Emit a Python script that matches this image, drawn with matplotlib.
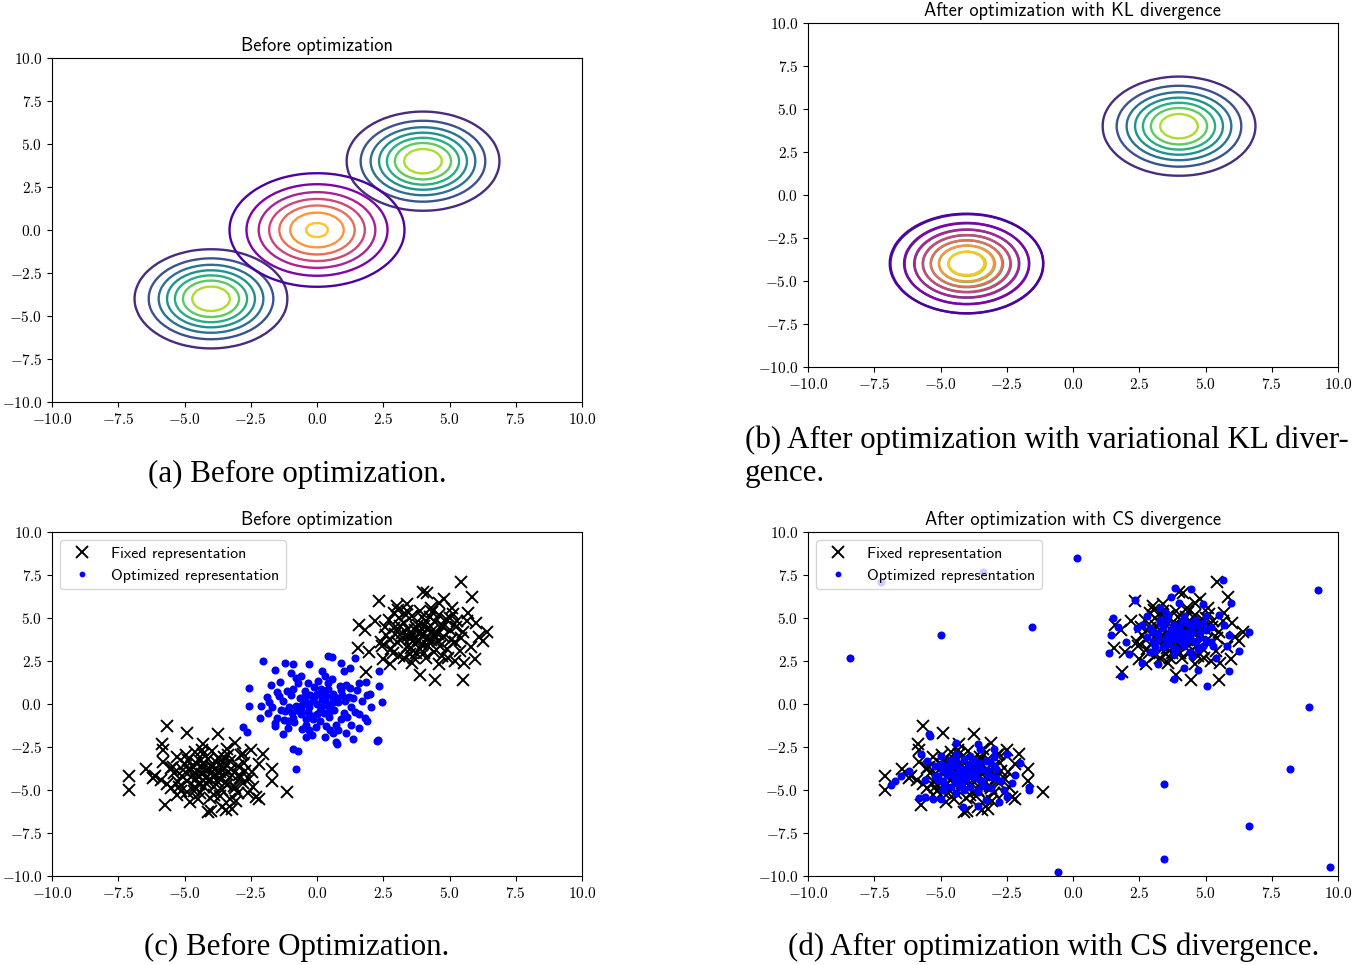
import numpy as np
import matplotlib.pyplot as plt

plt.rcParams["mathtext.fontset"] = "cm"

TICKS = [-10.0, -7.5, -5.0, -2.5, 0.0, 2.5, 5.0, 7.5, 10.0]

# gaussian fields shown as contours (means, variance, weights, contour levels)
FIXED_MEANS = [(-4.0, -4.0), (4.0, 4.0)]
FIXED_VAR = 2.0
FIXED_WEIGHTS = [0.5, 0.5]
FIXED_LEVELS = [0.005, 0.010, 0.015, 0.020, 0.025, 0.030, 0.035]

BEFORE_MEANS = [(0.0, 0.0)]
BEFORE_VAR = 2.75
BEFORE_WEIGHTS = [1.0]
BEFORE_LEVELS = [0.008, 0.016, 0.024, 0.032, 0.040, 0.048, 0.056]

KL_MEANS = [(-4.02, -3.98)]
KL_VAR = 2.03
KL_WEIGHTS = [1.0]
KL_LEVELS = [0.01, 0.02, 0.03, 0.04, 0.05, 0.06, 0.07]

# samples
FIXED_LOW = [
    (-7.1, -4.2), (-7.1, -5.0), (-6.45, -3.8), (-6.1, -4.2), (-6.2, -4.3), (-5.85, -2.35),
    (-5.8, -2.7), (-5.65, -1.3), (-5.75, -5.9), (-4.9, -1.7), (-3.75, -1.75), (-4.1, -6.3),
    (-4.0, -6.2), (-3.45, -6.15), (-3.2, -6.1), (-3.6, -6.0), (-2.2, -5.55), (-2.3, -5.4),
    (-1.7, -3.8), (-1.7, -4.5), (-1.15, -5.1), (-2.05, -2.9), (-2.5, -2.7), (-3.1, -2.25),
    (-4.3, -2.35), (-5.8, -3.4), (-5.5, -4.9), (-5.3, -5.3), (-4.8, -5.7), (-2.6, -5.2),
    (-2.4, -4.8), (-2.2, -3.5), (-2.8, -2.9), (-3.4, -2.6), (-4.6, -2.8), (-5.3, -3.1),
    (-5.9, -4.4), (-5.5, -3.7), (-4.0, -4.0), (-4.3, -3.7), (-3.7, -4.3), (-4.5, -4.2),
    (-3.5, -3.8), (-4.2, -4.6), (-3.8, -3.4), (-4.8, -3.9), (-3.2, -4.1), (-4.1, -3.2),
    (-4.6, -4.8), (-3.4, -4.7), (-4.9, -4.5), (-3.0, -3.6), (-4.4, -3.3), (-3.6, -5.0),
    (-5.0, -3.5), (-3.1, -4.9), (-4.7, -3.6), (-3.9, -4.8), (-4.4, -5.2), (-3.3, -3.3),
    (-5.1, -4.2), (-2.9, -4.3), (-4.0, -3.6), (-3.8, -4.1), (-4.2, -4.3), (-3.6, -3.6),
    (-4.6, -4.0), (-3.9, -5.3), (-5.2, -4.8), (-2.8, -4.6), (-4.3, -2.9), (-3.3, -5.5),
    (-4.9, -5.1), (-2.7, -3.9), (-5.4, -4.0), (-3.5, -3.1), (-4.5, -5.5), (-3.0, -5.2),
    (-4.15, -3.85), (-3.85, -4.15), (-4.35, -4.05), (-3.65, -3.95), (-4.05, -4.35), (-3.95, -3.65),
    (-4.55, -3.45), (-3.45, -4.55), (-4.75, -4.25), (-3.25, -3.75), (-4.25, -4.85), (-3.75, -3.15),
    (-5.05, -3.85), (-2.95, -4.15), (-4.45, -4.65), (-3.55, -3.35), (-4.85, -3.25), (-3.15, -4.75),
    (-4.65, -5.05), (-3.35, -2.95), (-5.25, -4.55), (-2.75, -3.45), (-4.05, -5.45), (-3.95, -2.75),
    (-5.45, -3.65), (-2.55, -4.35), (-4.35, -2.65), (-3.65, -5.35), (-5.15, -5.05), (-2.85, -2.95),
    (-3.05, -5.65), (-4.95, -2.95), (-2.45, -3.95), (-5.65, -4.65), (-4.25, -3.45), (-3.75, -4.55),
    (-4.55, -4.35), (-3.45, -4.05), (-3.85, -3.75), (-4.15, -4.25),
]

FIXED_HIGH = [
    (5.45, 7.1), (5.85, 6.2), (2.35, 6.0), (4.0, 6.5), (4.15, 6.45), (6.4, 4.2),
    (6.25, 3.65), (5.95, 2.6), (5.5, 1.4), (4.45, 1.4), (3.9, 1.7), (1.85, 1.85),
    (1.6, 4.6), (1.55, 3.25), (1.95, 3.0), (2.75, 2.3), (5.55, 2.4), (1.8, 4.3),
    (2.2, 4.8), (2.9, 5.3), (3.4, 5.8), (4.6, 5.9), (5.1, 5.6), (5.7, 5.3),
    (6.0, 4.7), (5.8, 3.3), (5.2, 2.5), (4.6, 2.3), (3.6, 2.4), (3.1, 2.8),
    (2.4, 3.6), (2.6, 4.0), (4.8, 6.1), (3.0, 5.7), (2.5, 2.6), (6.1, 3.9),
    (4.0, 4.0), (3.7, 4.3), (4.3, 3.7), (3.5, 3.8), (4.5, 4.2), (3.8, 4.6),
    (4.2, 3.4), (3.2, 4.1), (4.8, 3.9), (3.9, 3.2), (4.1, 4.8), (3.4, 3.3),
    (4.7, 4.6), (3.3, 4.7), (5.0, 4.3), (3.0, 3.6), (4.4, 3.0), (3.6, 5.1),
    (5.2, 3.6), (2.9, 4.4), (4.6, 5.2), (3.5, 2.9), (5.3, 4.8), (3.1, 5.0),
    (4.9, 3.2), (3.8, 3.7), (4.2, 4.4), (3.6, 4.0), (4.4, 4.0), (3.9, 5.4),
    (5.5, 4.2), (2.8, 3.2), (4.7, 2.8), (3.4, 5.4), (5.0, 5.0), (3.3, 2.7),
    (4.1, 2.7), (5.4, 3.1), (2.7, 4.9), (4.3, 5.6),
    (4.15, 3.85), (3.85, 4.15), (4.35, 4.25), (3.65, 3.75), (4.05, 4.55), (3.95, 3.45),
    (4.55, 3.65), (3.45, 4.35), (4.75, 4.45), (3.25, 3.85), (4.25, 5.05), (3.75, 2.95),
    (5.05, 3.75), (2.95, 4.05), (4.45, 4.75), (3.55, 3.25), (4.85, 4.95), (3.15, 4.55),
    (4.65, 3.35), (3.35, 5.15), (5.25, 4.45), (2.75, 3.75), (4.05, 2.95), (3.95, 5.05),
    (5.45, 3.85), (2.55, 4.45), (4.35, 5.35), (3.65, 2.65), (5.15, 5.25), (2.85, 2.95),
    (3.05, 5.45), (4.95, 2.65), (2.45, 3.35), (5.65, 4.85), (4.25, 3.55), (3.75, 4.45),
    (4.55, 4.05), (3.45, 3.95), (3.85, 3.65), (4.15, 4.35),
]

BEFORE_POINTS = [
    (-2.05, 2.5), (-2.55, 0.95), (-2.55, -0.1), (-2.15, -0.8), (-2.8, -1.35), (-2.65, -1.6),
    (-0.9, -2.6), (-0.7, -2.75), (-0.8, -3.8), (0.75, -2.3), (0.7, -2.2), (1.35, -2.05),
    (2.25, -2.15), (2.3, -2.1), (2.45, 0.1), (2.35, 1.05), (2.35, 1.9), (1.45, 2.7),
    (0.4, 2.8), (0.55, 2.75), (-1.2, 2.4), (-0.9, 2.3), (1.25, 2.1), (-1.75, 1.1),
    (-1.6, 2.0), (-1.9, 0.4), (-2.1, -0.1), (-1.6, -1.1), (-1.3, -1.75), (-0.4, -1.9),
    (0.3, -1.9), (1.1, -1.7), (1.8, -0.8), (1.9, -1.0), (2.0, 0.6), (1.85, 1.3),
    (1.0, 1.9), (-0.3, 2.3), (0.9, 2.4), (-1.0, 1.8), (-1.85, -0.5), (1.6, -1.4),
    (-1.1, -1.4), (0.5, -1.5), (2.05, -0.2), (0.0, 0.0), (0.3, 0.2), (-0.3, -0.2),
    (0.5, -0.4), (-0.5, 0.4), (0.2, 0.7), (-0.2, -0.7), (0.8, 0.1), (-0.8, -0.1),
    (0.6, 0.6), (-0.6, -0.6), (1.0, -0.5), (-1.0, 0.5), (0.1, -1.0), (-0.1, 1.0),
    (1.2, 0.4), (-1.2, -0.4), (0.4, 1.2), (-0.4, -1.2), (0.9, -0.9), (-0.9, 0.9),
    (1.3, -0.2), (-1.3, 0.2), (0.7, -1.2), (-0.7, 1.2), (0.2, 0.3), (-0.1, 0.4),
    (0.4, -0.1), (-0.4, 0.1), (0.1, -0.4), (1.5, 0.8), (-1.5, -0.8), (0.3, 1.6),
    (-0.3, -1.5), (1.1, 1.1), (-1.1, -1.0), (1.6, -0.6), (-1.5, 0.7), (0.6, -1.7),
    (-0.6, 1.6),
    (0.15, -0.15), (-0.15, 0.15), (0.35, 0.45), (-0.35, -0.45), (0.55, 0.05), (-0.55, -0.05),
    (0.25, -0.55), (-0.25, 0.55), (0.75, 0.35), (-0.75, -0.35), (0.45, -0.75), (-0.45, 0.75),
    (0.95, 0.55), (-0.95, -0.55), (0.65, -0.35), (-0.65, 0.35), (1.05, 0.15), (-1.05, -0.15),
    (0.15, 0.85), (-0.15, -0.85), (1.15, -0.75), (-1.15, 0.75), (0.85, 1.05), (-0.85, -1.05),
    (1.35, 0.35), (-1.35, -0.35), (0.05, 1.35), (-0.05, -1.35), (1.45, -0.45), (-1.45, 0.45),
    (0.55, 1.45), (-0.55, -1.45), (1.25, 0.95), (-1.25, -0.95), (0.35, -1.25), (-0.35, 1.25),
    (1.7, 0.2), (-1.7, -0.2), (0.8, -1.5), (-0.8, 1.5), (1.6, 1.2), (-1.6, -1.3),
    (0.2, 1.9), (-0.2, -1.8), (1.9, 0.5), (-1.8, 0.1), (1.3, -1.2), (-1.4, 1.3),
    (0.9, 0.8), (-0.9, -0.8), (0.6, 0.3), (-0.6, -0.3), (0.0, 0.6), (0.0, -0.6),
    (0.4, 0.9), (-0.4, -0.9),
]

CS_LOW = [
    (-6.85, -4.7), (-6.7, -4.5), (-6.5, -4.2), (-6.2, -3.9), (-5.45, -1.75), (-5.4, -1.85),
    (-5.75, -2.9), (-5.8, -5.45), (-5.6, -5.4), (-5.3, -5.5), (-5.0, -5.5), (-4.15, -6.0),
    (-3.6, -5.95), (-3.3, -5.6), (-2.8, -5.7), (-2.5, -5.4), (-1.65, -5.0), (-1.65, -4.85),
    (-2.0, -3.45), (-2.2, -4.1), (-2.5, -2.9), (-3.0, -2.6), (-3.5, -2.6), (-4.4, -2.25),
    (-3.6, -2.3), (-5.0, -3.0), (-5.5, -3.3), (-5.6, -4.4), (-5.2, -4.2), (-2.3, -4.6),
    (-2.6, -5.0), (-3.0, -3.0), (-4.0, -4.0), (-4.3, -3.7), (-3.7, -4.3), (-4.5, -4.2),
    (-3.5, -3.8), (-4.2, -4.6), (-3.8, -3.4), (-4.8, -3.9), (-3.2, -4.1), (-4.1, -3.2),
    (-4.6, -4.8), (-3.4, -4.7), (-4.9, -4.5), (-3.0, -3.6), (-4.4, -3.3), (-3.6, -5.0),
    (-5.0, -3.5), (-3.1, -4.9), (-4.7, -3.6), (-3.9, -4.8), (-4.0, -3.7), (-3.8, -4.1),
    (-4.2, -4.3), (-3.6, -3.6), (-4.6, -4.0), (-3.3, -3.3), (-4.4, -5.2), (-2.9, -4.3),
    (-5.1, -4.2), (-3.7, -3.9), (-4.1, -4.1), (-4.3, -4.4), (-3.9, -3.5), (-3.5, -4.4),
    (-4.15, -3.85), (-3.85, -4.15), (-4.35, -4.05), (-3.65, -3.95), (-4.05, -4.35), (-3.95, -3.65),
    (-4.55, -3.55), (-3.45, -4.45), (-4.75, -4.15), (-3.25, -3.85), (-4.25, -4.75), (-3.75, -3.25),
    (-4.95, -3.75), (-3.05, -4.25), (-4.45, -4.55), (-3.55, -3.45), (-4.65, -3.25), (-3.35, -4.75),
    (-4.85, -4.65), (-3.15, -3.35), (-5.1, -4.4), (-2.9, -3.8), (-4.1, -5.0), (-3.9, -3.0),
    (-5.2, -3.6), (-2.7, -4.5), (-4.4, -2.9), (-3.6, -5.1), (-4.9, -5.0), (-3.0, -3.1),
]

CS_HIGH = [
    (5.65, 7.2), (3.85, 6.75), (4.45, 6.7), (5.95, 5.9), (2.35, 6.05), (6.65, 4.2),
    (6.25, 3.1), (5.9, 1.9), (5.05, 1.05), (3.8, 1.45), (1.8, 1.65), (1.35, 2.95),
    (1.45, 4.0), (1.5, 5.0), (1.7, 4.5), (2.0, 3.6), (2.1, 2.9), (2.6, 2.4),
    (3.2, 2.3), (4.2, 2.1), (4.7, 2.0), (5.4, 2.7), (5.8, 3.4), (5.9, 4.0),
    (5.5, 5.2), (4.9, 5.8), (4.0, 5.9), (3.3, 5.6), (2.8, 5.1), (2.4, 4.4),
    (5.7, 4.6), (3.7, 6.2), (4.0, 4.0), (3.7, 4.3), (4.3, 3.7), (3.5, 3.8),
    (4.5, 4.2), (3.8, 4.6), (4.2, 3.4), (3.2, 4.1), (4.8, 3.9), (3.9, 3.2),
    (4.1, 4.8), (3.4, 3.3), (4.7, 4.6), (3.3, 4.7), (5.0, 4.3), (3.0, 3.6),
    (4.4, 3.0), (3.6, 5.1), (5.2, 3.6), (2.9, 4.4), (4.0, 4.4), (3.8, 3.8),
    (4.2, 4.1), (3.6, 4.0), (4.4, 3.9), (3.6, 3.5), (4.6, 4.9), (3.1, 3.1),
    (4.9, 3.4), (3.5, 4.8), (4.1, 3.6), (3.9, 4.2),
    (4.1, 3.9), (3.9, 4.1), (4.3, 4.1), (3.7, 3.9), (4.0, 4.3), (4.0, 3.7),
    (4.6, 3.6), (3.4, 4.5), (4.8, 4.2), (3.2, 3.8), (4.3, 4.7), (3.8, 3.2),
    (5.0, 3.7), (3.0, 4.2), (4.5, 4.5), (3.5, 3.5), (4.7, 3.2), (3.3, 4.9),
    (4.9, 4.7), (3.1, 3.4), (5.2, 4.5), (2.8, 3.9), (4.2, 5.1), (3.8, 2.9),
    (5.3, 3.4), (2.6, 4.6), (4.5, 2.8), (3.5, 5.3), (5.0, 5.1), (2.9, 3.0),
]

CS_OUTLIERS = [
    (0.15, 8.5), (-8.4, 2.7), (-5.0, 4.0), (-1.55, 4.45), (-7.25, 7.1), (-3.4, 7.65),
    (9.25, 6.65), (8.9, -0.2), (8.2, -3.8), (3.45, -4.65), (3.45, -9.0), (6.65, -7.1),
    (-0.55, -9.75), (9.7, -9.45),
]


def density(xx, yy, means, var, weights):
    z = np.zeros_like(xx)
    for (mx, my), w in zip(means, weights):
        z += w * np.exp(-((xx - mx) ** 2 + (yy - my) ** 2) / (2 * var)) / (2 * np.pi * var)
    return z


def draw_contours(ax, means, var, weights, levels, cmap):
    grid = np.linspace(-10, 10, 100)
    xx, yy = np.meshgrid(grid, grid)
    zz = density(xx, yy, means, var, weights)
    step = levels[1] - levels[0]
    ax.contour(xx, yy, zz, levels=levels, cmap=cmap, vmin=0, vmax=levels[-1] + step, linewidths=1.7)


def style_axes(ax, title):
    ax.set_xlim(-10, 10)
    ax.set_ylim(-10, 10)
    ax.set_xticks(TICKS)
    ax.set_yticks(TICKS)
    ax.set_xticklabels([f"${t:.1f}$" for t in TICKS], fontsize=11)
    ax.set_yticklabels([f"${t:.1f}$" for t in TICKS], fontsize=11)
    ax.set_title(title, family="cmss10", fontsize=13.3, pad=5)


def scatter_panel(ax, blue_sets, title):
    fixed = np.array(FIXED_LOW + FIXED_HIGH)
    ax.plot(fixed[:, 0], fixed[:, 1], "x", color="black", markersize=9, mew=1.4,
            label="Fixed representation")
    blue = np.array(sum(blue_sets, []))
    ax.plot(blue[:, 0], blue[:, 1], "o", color="blue", markersize=5.8, mew=0,
            label="Optimized representation")
    leg = ax.legend(loc="upper left", prop={"family": "cmss10", "size": 11.5})
    leg.legend_handles[1].set_markersize(4.2)
    style_axes(ax, title)


fig = plt.figure(figsize=(13.71, 9.65), dpi=100)
W, H = 1371, 965


def add_ax(left, top):
    right = left + 530
    bottom = top + 344
    return fig.add_axes([left / W, 1 - bottom / H, (right - left) / W, (bottom - top) / H])


ax_a = add_ax(52, 58)
draw_contours(ax_a, FIXED_MEANS, FIXED_VAR, FIXED_WEIGHTS, FIXED_LEVELS, "viridis")
draw_contours(ax_a, BEFORE_MEANS, BEFORE_VAR, BEFORE_WEIGHTS, BEFORE_LEVELS, "plasma")
style_axes(ax_a, "Before optimization")

ax_b = add_ax(808, 23)
draw_contours(ax_b, FIXED_MEANS, FIXED_VAR, FIXED_WEIGHTS, FIXED_LEVELS, "viridis")
draw_contours(ax_b, KL_MEANS, KL_VAR, KL_WEIGHTS, KL_LEVELS, "plasma")
style_axes(ax_b, "After optimization with KL divergence")

ax_c = add_ax(52, 532)
scatter_panel(ax_c, [BEFORE_POINTS], "Before optimization")

ax_d = add_ax(808, 532)
scatter_panel(ax_d, [CS_LOW, CS_HIGH, CS_OUTLIERS], "After optimization with CS divergence")

cap = dict(family="Liberation Serif", fontsize=22.3, va="center")
fig.text(297 / W, 1 - 474 / H, "(a) Before optimization.", ha="center", **cap)
fig.text(745 / W, 1 - 440 / H, "(b) After optimization with variational KL diver-", ha="left", **cap)
fig.text(745 / W, 1 - 474 / H, "gence.", ha="left", **cap)
fig.text(297 / W, 1 - 947 / H, "(c) Before Optimization.", ha="center", **cap)
fig.text(1054 / W, 1 - 947 / H, "(d) After optimization with CS divergence.", ha="center", **cap)

fig.savefig("out.png", dpi=100)
